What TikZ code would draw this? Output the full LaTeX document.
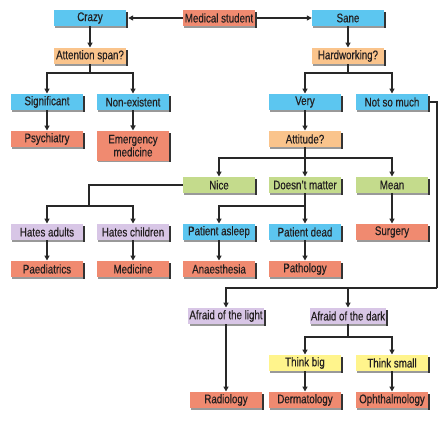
\documentclass[tikz,border=0pt]{standalone}
\usepackage{fontspec}
\setmainfont{Liberation Sans}[FakeStretch=0.78,FakeBold=0.4]
\usetikzlibrary{arrows.meta,calc}
\definecolor{cSal}{RGB}{240,138,112}
\definecolor{cBlu}{RGB}{92,198,240}
\definecolor{cGrn}{RGB}{196,219,140}
\definecolor{cLav}{RGB}{216,198,230}
\definecolor{cYel}{RGB}{255,244,140}
\definecolor{cPch}{RGB}{250,196,140}
\definecolor{cTxt}{RGB}{35,31,32}
\definecolor{cLn}{RGB}{40,40,40}
\tikzset{
  box/.style={rectangle, minimum width=72pt, minimum height=16.5pt, inner sep=1pt,
    text=cTxt, font=\fontsize{12.5}{13}\selectfont, align=center},
  sal/.style={box, fill=cSal},
  blu/.style={box, fill=cBlu},
  grn/.style={box, fill=cGrn},
  lav/.style={box, fill=cLav},
  yel/.style={box, fill=cYel},
  pch/.style={box, fill=cPch},
  ln/.style={draw=cLn, line width=1.3pt},
  arr/.style={ln, -{Triangle[length=5pt,width=5pt]}},
  shd/.style={fill=black!80},
  shl/.style={fill=black!40}
}
\begin{document}
\begin{tikzpicture}[x=1pt,y=-1pt]
\fill[white] (0,0) rectangle (445,422);
\useasboundingbox (0,0) rectangle (445,422);
% row 1
\node[sal] (ms) at (219,18) {Medical student};
\node[blu] (crazy) at (90,18) {Crazy};
\node[blu] (sane) at (348,18) {Sane};
% row 2
\node[pch] (att) at (90,56) {Attention span?};
\node[pch] (hw) at (348,56) {Hardworking?};
% row 3
\node[blu] (sig) at (47,102) {Significant};
\node[blu] (non) at (133,102) {Non-existent};
\node[blu] (very) at (305,102) {Very};
\node[blu] (nsm) at (392,102) {Not so much};
% row 4
\node[sal] (psy) at (47,139) {Psychiatry};
\node[sal, minimum height=30pt, anchor=north] (em) at (133,130.5) {Emergency\\medicine};
\node[pch] (atd) at (305,139) {Attitude?};
% row 5
\node[grn] (nice) at (219,185) {Nice};
\node[grn] (dm) at (305,185) {Doesn't matter};
\node[grn] (mean) at (392,185) {Mean};
% row 6
\node[lav] (ha) at (47,232) {Hates adults};
\node[lav] (hc) at (133,232) {Hates children};
\node[blu] (pa) at (219,232) {Patient asleep};
\node[blu] (pd) at (305,232) {Patient dead};
\node[sal] (sur) at (392,232) {Surgery};
% row 7
\node[sal] (pae) at (47,269) {Paediatrics};
\node[sal] (med) at (133,269) {Medicine};
\node[sal] (ana) at (219,269) {Anaesthesia};
\node[sal] (pat) at (305,269) {Pathology};
% row 8
\node[lav] (al) at (226,316) {Afraid of the light};
\node[lav] (ad) at (348,316) {Afraid of the dark};
% row 9
\node[yel] (tb) at (305,363) {Think big};
\node[yel] (ts) at (392,363) {Think small};
% row 10
\node[sal] (rad) at (226,400) {Radiology};
\node[sal] (der) at (305,400) {Dermatology};
\node[sal] (oph) at (392,400) {Ophthalmology};
% shadows
\foreach \n in {ms,crazy,sane,att,hw,sig,non,very,nsm,psy,em,atd,nice,dm,mean,ha,hc,pa,pd,sur,pae,med,ana,pat,al,ad,tb,ts,rad,der,oph}{
  \fill[shl] ([xshift=1.5pt]\n.south west) rectangle ([yshift=-1.5pt]\n.south east);
  \fill[shd] ([yshift=-2.5pt]\n.north east) rectangle ([xshift=2pt,yshift=-1.5pt]\n.south east);
}
% connectors
\draw[arr] (ms.west) -- ([xshift=2pt]crazy.east);
\draw[arr] ([xshift=2pt]ms.east) -- (sane.west);
\draw[arr] (crazy.south) -- (att.north);
\draw[arr] (sane.south) -- (hw.north);
\coordinate (j1) at (90,73);
\draw[ln] (att.south) -- (j1);
\draw[arr] (j1) -| (sig.north);
\draw[arr] (j1) -| (non.north);
\coordinate (j2) at (348,73);
\draw[ln] (hw.south) -- (j2);
\draw[arr] (j2) -| (very.north);
\draw[arr] (j2) -| (nsm.north);
\draw[arr] (sig.south) -- (psy.north);
\draw[arr] (non.south) -- (em.north);
\draw[arr] (very.south) -- (atd.north);
\coordinate (j3) at (305,158);
\draw[ln] (atd.south) -- (j3);
\draw[arr] (j3) -| (nice.north);
\draw[arr] (j3) -- (dm.north);
\draw[arr] (j3) -| (mean.north);
\coordinate (j4) at (89,206);
\draw[ln] (nice.west) -| (j4);
\draw[arr] (j4) -| (ha.north);
\draw[arr] (j4) -| (hc.north);
\coordinate (j5) at (305,206);
\draw[ln] (dm.south) -- (j5);
\draw[arr] (j5) -| (pa.north);
\draw[arr] (j5) -- (pd.north);
\draw[arr] (mean.south) -- (sur.north);
\draw[arr] (ha.south) -- (pae.north);
\draw[arr] (hc.south) -- (med.north);
\draw[arr] (pa.south) -- (ana.north);
\draw[arr] (pd.south) -- (pat.north);
\coordinate (j6) at (437,288);
\draw[ln] ([xshift=2pt]nsm.east) -| (j6);
\draw[arr] (j6) -| (al.north);
\draw[arr] (j6) -| (ad.north);
\draw[arr] (al.south) -- (rad.north);
\coordinate (j7) at (348,337);
\draw[ln] (ad.south) -- (j7);
\draw[arr] (j7) -| (tb.north);
\draw[arr] (j7) -| (ts.north);
\draw[arr] (tb.south) -- (der.north);
\draw[arr] (ts.south) -- (oph.north);
\end{tikzpicture}
\end{document}
